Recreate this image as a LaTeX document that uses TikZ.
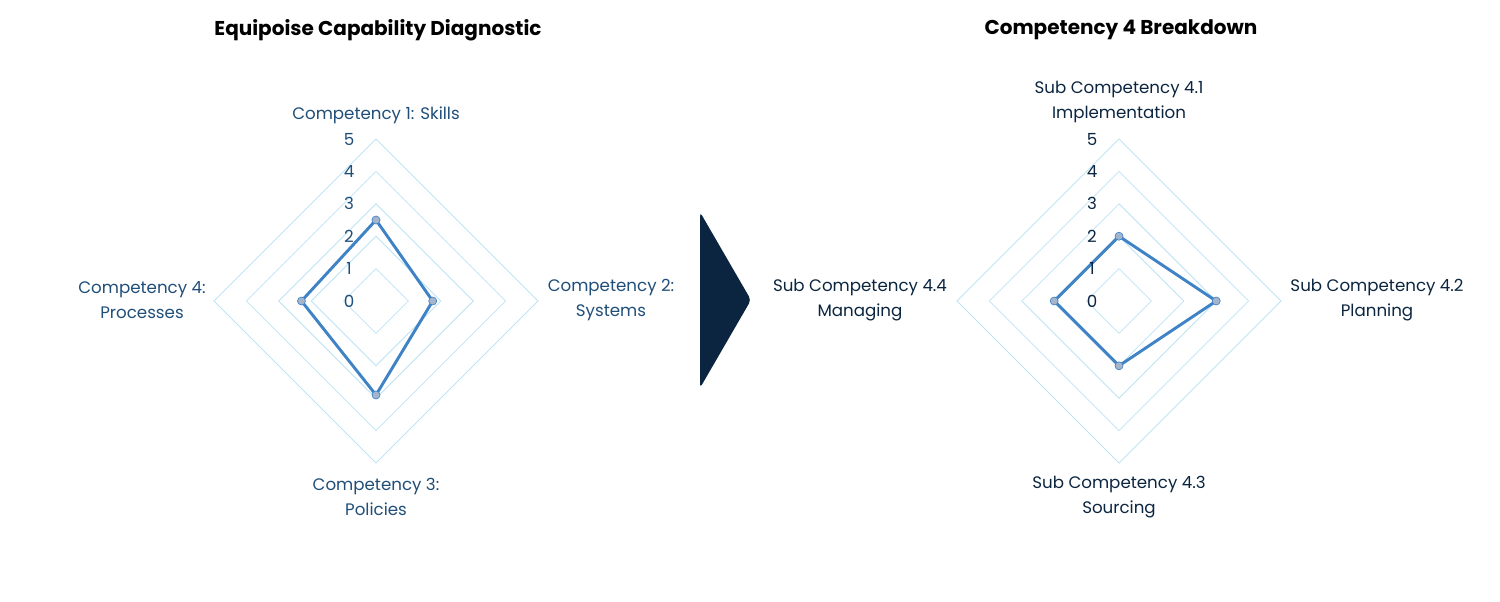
\documentclass[tikz,border=0pt]{standalone}
\usepackage{fontspec}
\setmainfont{Poppins}
\begin{document}
\begin{tikzpicture}[x=0.75pt,y=-0.75pt,
  grid/.style={draw=gridc,line width=0.6pt},
  dat/.style={draw=datc,line width=2.2pt,line join=round},
  mk/.style={circle,fill=mkc,draw=datc,line width=0.5pt,inner sep=0pt,minimum size=6pt},
  lab/.style={font=\fontsize{12.5}{19}\selectfont,align=center,text=labc},
  tick/.style={font=\fontsize{12.5}{14}\selectfont,text=labc},
  ttl/.style={font=\fontsize{15}{18}\selectfont\bfseries,text=black}]
\definecolor{gridc}{HTML}{BDE3F5}
\definecolor{datc}{HTML}{3F83C6}
\definecolor{mkc}{HTML}{A5B6CC}
\definecolor{labc}{HTML}{1F4E79}
\definecolor{darkc}{HTML}{0B2540}
\useasboundingbox (0,0) rectangle (1500,601);
\def\u{32.4}
% left radar
\foreach \k in {1,...,5}{
  \draw[grid] (376,{301-\k*\u}) -- ({376+\k*\u},301) -- (376,{301+\k*\u}) -- ({376-\k*\u},301) -- cycle;}
\coordinate (la) at (376,{301-2.5*\u});
\coordinate (lb) at ({376+1.75*\u},301);
\coordinate (lc) at (376,{301+2.9*\u});
\coordinate (ld) at ({376-2.3*\u},301);
\draw[dat] (la) -- (lb) -- (lc) -- (ld) -- cycle;
\foreach \p in {la,lb,lc,ld} \node[mk] at (\p) {};
\foreach \k in {0,...,5} \node[tick] (lt\k) at (349,{301-\k*\u}) {\k};
\node[ttl] (t1) at (378,30) {Equipoise Capability Diagnostic};
\node[lab] (l1) at (376,115) {Competency 1: Skills};
\node[lab] (l2) at (611,300) {Competency 2:\\Systems};
\node[lab] (l3) at (376,497) {Competency 3:\\Policies};
\node[lab] (l4) at (142,300) {Competency 4:\\Processes};
% arrow
\fill[darkc,rounded corners=3pt] (700,212) -- (751,300) -- (700,388) -- cycle;
% right radar
\foreach \k in {1,...,5}{
  \draw[grid] (1119,{301-\k*\u}) -- ({1119+\k*\u},301) -- (1119,{301+\k*\u}) -- ({1119-\k*\u},301) -- cycle;}
\coordinate (ra) at (1119,{301-2*\u});
\coordinate (rb) at ({1119+3*\u},301);
\coordinate (rc) at (1119,{301+2*\u});
\coordinate (rd) at ({1119-2*\u},301);
\draw[dat] (ra) -- (rb) -- (rc) -- (rd) -- cycle;
\foreach \p in {ra,rb,rc,rd} \node[mk] at (\p) {};
\foreach \k in {0,...,5} \node[tick,text=darkc] (rt\k) at (1092,{301-\k*\u}) {\k};
\node[ttl] (t2) at (1121,30) {Competency 4 Breakdown};
\node[lab,text=darkc] (r1) at (1119,102) {Sub Competency 4.1\\Implementation};
\node[lab,text=darkc] (r2) at (1377,300) {Sub Competency 4.2\\Planning};
\node[lab,text=darkc] (r3) at (1119,497) {Sub Competency 4.3\\Sourcing};
\node[lab,text=darkc] (r4) at (860,300) {Sub Competency 4.4\\Managing};
\end{tikzpicture}
\end{document}
